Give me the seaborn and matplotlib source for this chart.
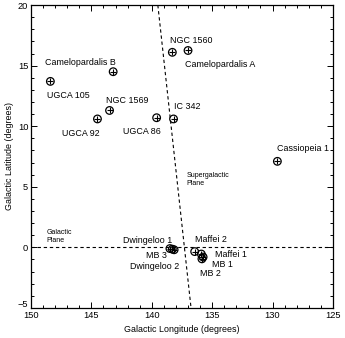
import matplotlib
matplotlib.use("Agg")
import matplotlib.pyplot as plt
import matplotlib.transforms as mtransforms
import pandas as pd
import seaborn as sns

# Galaxy positions (galactic longitude / latitude, degrees)
names = ["Camelopardalis B", "UGCA 105", "NGC 1569", "UGCA 92", "UGCA 86",
         "NGC 1560", "Camelopardalis A", "IC 342", "Cassiopeia 1",
         "Dwingeloo 1", "MB 3", "Dwingeloo 2",
         "Maffei 2", "Maffei 1", "MB 1", "MB 2"]
lon = [143.2, 148.4, 143.5, 144.5, 139.6,
       138.3, 137.0, 138.2, 129.6,
       138.5, 138.3, 138.15,
       136.45, 135.9, 135.75, 135.85]
lat = [14.5, 13.7, 11.3, 10.6, 10.7,
       16.1, 16.25, 10.6, 7.1,
       -0.1, -0.15, -0.2,
       -0.35, -0.55, -0.8, -0.95]

# Label anchors (left edge, vertical centre)
label_lon = [148.85, 148.7, 143.8, 147.45, 142.4,
             138.5, 137.25, 138.15, 129.65,
             142.35, 140.5, 141.8,
             136.4, 134.75, 135.0, 136.0]
label_lat = [15.3, 12.55, 12.15, 9.4, 9.6,
             17.05, 15.1, 11.6, 8.2,
             0.6, -0.7, -1.6,
             0.65, -0.6, -1.4, -2.15]

# Reference planes
sgp_lon = [139.5, 136.75]
sgp_lat = [20, -5]

FONT = ["Liberation Sans", "DejaVu Sans"]
FS = 6.4

df = pd.DataFrame({"lon": lon, "lat": lat, "name": names})

sns.set_style("ticks")
plt.rcParams["font.family"] = FONT
plt.rcParams.update({"text.color": "black", "axes.labelcolor": "black",
                     "xtick.color": "black", "ytick.color": "black",
                     "axes.edgecolor": "black"})

fig = plt.figure(figsize=(3.45, 3.38), dpi=100)
ax = fig.add_axes([0.09, 0.089, 0.875, 0.896])

ax.axhline(0, color="black", lw=0.8, ls=(0, (3, 2.5)))
ax.plot(sgp_lon, sgp_lat, color="black", lw=0.8, ls=(0, (3, 2.5)))

sns.scatterplot(data=df, x="lon", y="lat", marker="o", s=30, facecolors="none",
                edgecolor="black", linewidth=0.9, ax=ax, zorder=3)
sns.scatterplot(data=df, x="lon", y="lat", marker="+", s=16, color="black",
                linewidth=0.8, ax=ax, zorder=4)

for n, x, y in zip(names, label_lon, label_lat):
    ax.text(x, y, n, fontsize=FS, ha="left", va="center")

ax.text(148.75, 0.9, "Galactic\nPlane", fontsize=5, ha="left", va="center",
        linespacing=1.1)
ax.text(137.15, 5.6, "Supergalactic\nPlane", fontsize=5, ha="left", va="center",
        linespacing=1.1)

ax.set_xlim(150, 125)
ax.set_ylim(-5, 20)
ax.set_xticks(range(150, 124, -5))
ax.set_yticks(range(-5, 21, 5))
ax.set_xticks(range(150, 124, -1), minor=True)
ax.set_yticks(range(-5, 21, 1), minor=True)
ax.tick_params(which="both", direction="in", top=True, right=True,
               labelsize=FS + 0.3, width=0.7, pad=2)
ax.tick_params(which="major", length=4)
ax.tick_params(which="minor", length=2.5)
for sp in ax.spines.values():
    sp.set_linewidth(0.9)

# nudge the -5 label up so it clears the corner like the original
lbl = ax.get_yticklabels()[0]
lbl.set_transform(lbl.get_transform() + mtransforms.ScaledTranslation(0, 3 / 72, fig.dpi_scale_trans))

ax.set_xlabel("Galactic Longitude (degrees)", fontsize=FS, labelpad=4)
ax.set_ylabel("Galactic Latitude (degrees)", fontsize=FS, labelpad=3)

fig.savefig("out.png", dpi=100)
